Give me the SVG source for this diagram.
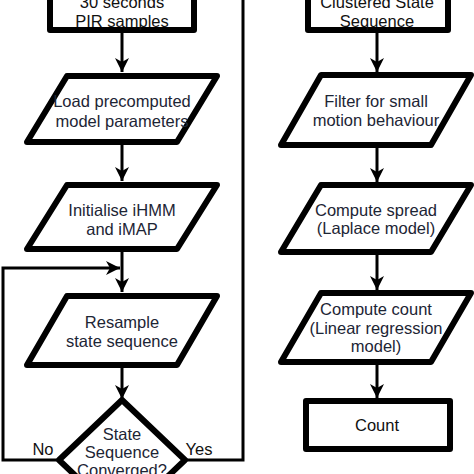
<svg xmlns="http://www.w3.org/2000/svg" width="474" height="474" viewBox="0 0 474 474">
<style>
.shape{fill:#fff;stroke:#000;stroke-width:6;stroke-linejoin:round}
.conn{fill:none;stroke:#000;stroke-width:3}
text{font-family:"Liberation Sans",Arial,Helvetica,sans-serif;font-size:16.5px;text-anchor:middle;fill:#1d2535}
.dark{fill:#111}
</style>
<defs>
<marker id="arr" markerUnits="userSpaceOnUse" markerWidth="16" markerHeight="16" refX="14" refY="7" orient="auto">
<path d="M0,0 L14,7 L0,14 L4,7 z" fill="#000"/>
</marker>
</defs>
<rect width="474" height="474" fill="#fff"/>
<g id="connectors">
<path class="conn" d="M122,33 V72" marker-end="url(#arr)"/>
<path class="conn" d="M122,145 V181" marker-end="url(#arr)"/>
<path class="conn" d="M122,252 V292" marker-end="url(#arr)"/>
<path class="conn" d="M122,368 V399" marker-end="url(#arr)"/>
<path class="conn" d="M60,460 H3 V268 H120" marker-end="url(#arr)"/>
<path class="conn" d="M185,460 H243 V-5"/>
<path class="conn" d="M377,33 V72" marker-end="url(#arr)"/>
<path class="conn" d="M377,148 V182" marker-end="url(#arr)"/>
<path class="conn" d="M377,255 V290" marker-end="url(#arr)"/>
<path class="conn" d="M377,365 V398" marker-end="url(#arr)"/>
</g>
<g id="pir">
<rect class="shape" x="50" y="-20" width="144" height="50"/>
<text class="dark" x="122" y="8">30 seconds</text>
<text class="dark" x="122" y="27">PIR samples</text>
</g>
<g id="load">
<path class="shape" d="M67,76 H217 L177,142 H27 Z"/>
<text x="122" y="107">Load precomputed</text>
<text x="122" y="127">model parameters</text>
</g>
<g id="init">
<path class="shape" d="M67,185 H217 L177,249 H27 Z"/>
<text x="122" y="216">Initialise iHMM</text>
<text x="122" y="235">and iMAP</text>
</g>
<g id="resample">
<path class="shape" d="M67,296 H217 L177,365 H27 Z"/>
<text x="122" y="328">Resample</text>
<text x="122" y="347">state sequence</text>
</g>
<g id="converged">
<path class="shape" d="M122,400 L185,460 L122,520 L59,460 Z"/>
<text x="122" y="440">State</text>
<text x="122" y="458">Sequence</text>
<text x="122" y="476">Converged?</text>
</g>
<text class="dark" x="43" y="455">No</text>
<text class="dark" x="199" y="455">Yes</text>
<g id="clustered">
<rect class="shape" x="308" y="-20" width="140" height="50"/>
<text class="dark" x="377" y="8">Clustered State</text>
<text class="dark" x="377" y="27">Sequence</text>
</g>
<g id="filter">
<path class="shape" d="M321,75 H471 L431,145 H281 Z"/>
<text x="376" y="107">Filter for small</text>
<text x="376" y="126">motion behaviour</text>
</g>
<g id="spread">
<path class="shape" d="M321,185 H471 L431,252 H281 Z"/>
<text x="376" y="216">Compute spread</text>
<text x="376" y="234">(Laplace model)</text>
</g>
<g id="countmodel">
<path class="shape" d="M321,293 H471 L431,362 H281 Z"/>
<text x="376" y="315">Compute count</text>
<text x="376" y="334">(Linear regression</text>
<text x="376" y="352">model)</text>
</g>
<g id="count">
<rect class="shape" x="306" y="401" width="144" height="48"/>
<text class="dark" x="377" y="431">Count</text>
</g>
</svg>
